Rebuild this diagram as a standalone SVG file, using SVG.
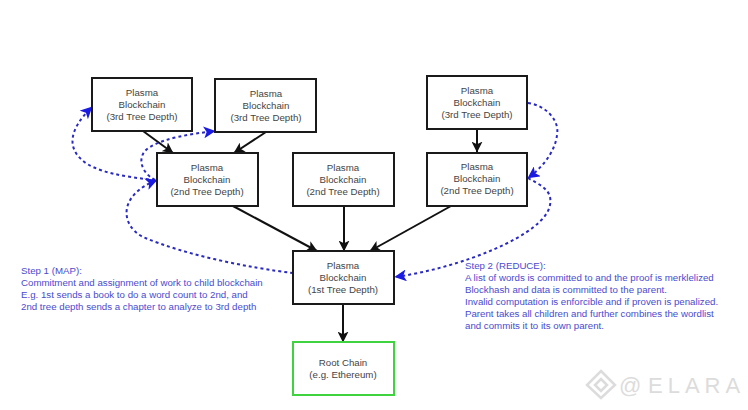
<svg xmlns="http://www.w3.org/2000/svg" width="748" height="410" viewBox="0 0 748 410">
<style>
.box{fill:#fff;stroke:#1a1a1a;stroke-width:2}
.green{fill:#fff;stroke:#3fd43f;stroke-width:2}
text{font-family:"Liberation Sans",Arial,sans-serif}
.n{font-size:9.7px;fill:#444;text-anchor:middle}
.s{font-size:9.7px;fill:#4a4ad0}
.e{fill:none;stroke:#111;stroke-width:2;marker-end:url(#k)}
.p{fill:none;stroke:#2a2ac0;stroke-width:2;stroke-dasharray:3 3;marker-end:url(#b)}
.wm{font-size:22px;fill:#dcdcdc;letter-spacing:5px}
</style>
<defs>
<marker id="k" viewBox="0 0 10 10" refX="9.5" refY="5" markerWidth="11" markerHeight="11" markerUnits="userSpaceOnUse" orient="auto"><path d="M0 0L10 5L0 10L2.5 5Z" fill="#111"/></marker>
<marker id="b" viewBox="0 0 10 10" refX="9.5" refY="5" markerWidth="12" markerHeight="12" markerUnits="userSpaceOnUse" orient="auto"><path d="M0 0L10 5L0 10L2.5 5Z" fill="#1a1ae0"/></marker>
</defs>
<rect width="748" height="410" fill="#fff"/>
<g id="connectors">
<path class="e" d="M143 131L173 153"/>
<path class="e" d="M266 132L234 153"/>
<path class="e" d="M233 206L317 251"/>
<path class="e" d="M344 206V251"/>
<path class="e" d="M477 130V152"/>
<path class="e" d="M451 206L370 251"/>
<path class="e" d="M343 304V342"/>
<path class="p" d="M155 180C125 177 95 172 82 160C68 148 68 130 92 107"/>
<path class="p" d="M155 180C140 172 136 155 150 147C165 138 190 134 215 131"/>
<path class="p" d="M293 273C250 268 185 255 143 237C120 225 118 195 157 180"/>
<path class="p" d="M528 103C545 105 560 120 557 135C555 152 542 168 528 178"/>
<path class="p" d="M528 178C540 185 553 190 550 205C545 235 460 268 395 277"/>
</g>
<g id="n1"><rect class="box" x="92" y="78" width="100" height="53"/><text class="n" x="142" y="96">Plasma</text><text class="n" x="142" y="108">Blockchain</text><text class="n" x="142" y="120">(3rd Tree Depth)</text></g>
<g id="n2"><rect class="box" x="215" y="79" width="101" height="53"/><text class="n" x="266" y="97">Plasma</text><text class="n" x="266" y="109">Blockchain</text><text class="n" x="266" y="121">(3rd Tree Depth)</text></g>
<g id="n3"><rect class="box" x="157" y="153" width="101" height="53"/><text class="n" x="207" y="171">Plasma</text><text class="n" x="207" y="183">Blockchain</text><text class="n" x="207" y="195">(2nd Tree Depth)</text></g>
<g id="n4"><rect class="box" x="293" y="153" width="101" height="53"/><text class="n" x="343" y="171">Plasma</text><text class="n" x="343" y="183">Blockchain</text><text class="n" x="343" y="195">(2nd Tree Depth)</text></g>
<g id="n5"><rect class="box" x="427" y="76" width="100" height="53"/><text class="n" x="477" y="94">Plasma</text><text class="n" x="477" y="106">Blockchain</text><text class="n" x="477" y="118">(3rd Tree Depth)</text></g>
<g id="n6"><rect class="box" x="427" y="153" width="100" height="53"/><text class="n" x="477" y="170">Plasma</text><text class="n" x="477" y="182">Blockchain</text><text class="n" x="477" y="194">(2nd Tree Depth)</text></g>
<g id="n7"><rect class="box" x="293" y="251" width="101" height="53"/><text class="n" x="343" y="269">Plasma</text><text class="n" x="343" y="281">Blockchain</text><text class="n" x="343" y="293">(1st Tree Depth)</text></g>
<g id="n8"><rect class="green" x="293" y="342" width="101" height="53"/><text class="n" x="343" y="366">Root Chain</text><text class="n" x="343" y="378">(e.g. Ethereum)</text></g>
<g id="step1"><text class="s" x="21" y="274">Step 1 (MAP):</text><text class="s" x="21" y="286">Commitment and assignment of work to child blockchain</text><text class="s" x="21" y="298">E.g. 1st sends a book to do a word count to 2nd, and</text><text class="s" x="21" y="310">2nd tree depth sends a chapter to analyze to 3rd depth</text></g>
<g id="step2"><text class="s" x="465" y="269">Step 2 (REDUCE):</text><text class="s" x="465" y="281">A list of words is committed to and the proof is merklelized</text><text class="s" x="465" y="293">Blockhash and data is committed to the parent.</text><text class="s" x="465" y="305">Invalid computation is enforcible and if proven is penalized.</text><text class="s" x="465" y="317">Parent takes all children and further combines the wordlist</text><text class="s" x="465" y="329">and commits it to its own parent.</text></g>
<g id="watermark"><path d="M601 371L615 385L601 398L587 385Z M601 379L607 385L601 391L595 385Z" fill="none" stroke="#dcdcdc" stroke-width="2.5"/><text class="wm" x="619" y="393">@</text><text class="wm" x="648" y="393">ELARA</text></g>
</svg>
